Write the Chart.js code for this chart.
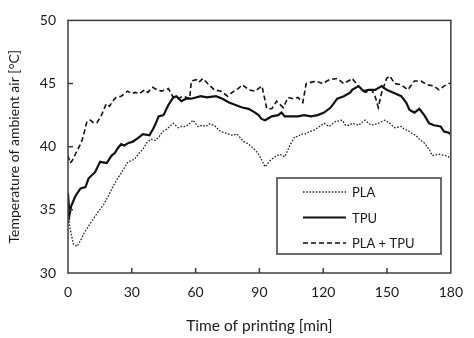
<!DOCTYPE html>
<html><head><meta charset="utf-8">
<script src="https://cdn.jsdelivr.net/npm/chart.js@4.4.1/dist/chart.umd.min.js"></script>
<style>html,body{margin:0;padding:0;background:#fff}#wrap{width:474px;height:338px}</style>
</head><body><div id="wrap"><canvas id="c" width="474" height="338"></canvas></div>
<script>
const seriesLabels = ["PLA", "TPU", "PLA + TPU"];
const xTicks = [0, 30, 60, 90, 120, 150, 180];
const yTicks = [30, 35, 40, 45, 50];

const plaTime = [0,1,2.5,4.3,6,7.4,10,12,14,16.7,19,21.3,23,25,28.2,31.3,33,35.2,37,39,41,42.9,44.5,46.5,49.5,51.8,53.5,55.5,57,58.8,61,63,64.9,66.5,68.7,70.5,71.8,73.5,75.7,77.5,79.5,81,82.6,84,85.6,87,88.7,90,91.5,92.7,94,95,97.3,99.6,101.9,103,104.3,106.6,108,109.7,111.5,113.5,115.5,117.4,120.4,122.8,125.8,128.9,130.5,132,133.6,136.6,139.7,141,142.8,145.9,149,151.3,153.6,156.7,158,159.8,162.1,163.5,165.2,167.5,169.8,171.3,174.4,177.5,180];
const plaTemp = [34.6,33.5,32.3,32.1,32.6,33.1,33.8,34.3,34.8,35.4,36.1,36.9,37.4,37.9,38.8,39.0,39.4,39.8,40.3,40.6,40.5,40.8,41.2,41.4,41.85,41.5,41.6,41.6,41.8,42.1,41.6,41.7,41.6,41.8,41.7,41.4,41.2,41.1,41.0,40.9,41.0,40.7,40.4,40.3,40.1,39.9,39.6,39.3,38.8,38.4,38.7,38.9,39.2,39.4,39.2,39.6,40.1,40.8,40.8,41.0,41.0,41.2,41.3,41.5,41.85,41.6,42.0,42.1,41.7,41.7,41.85,41.7,42.1,41.9,41.7,41.85,42.1,41.85,41.5,41.6,41.4,41.3,41.0,40.9,40.6,40.3,39.8,39.3,39.4,39.3,39.1];

const tpuTime = [0,0.7,1.5,3.5,5.9,8.2,9.7,12.8,15.1,18.2,20.5,22,23.5,25,26.4,28.5,30.5,33,35.2,38.3,40,41.3,42.6,44.9,47.2,49.5,51,53.3,55.5,57.8,60.1,62.4,65.4,69.6,72.6,75.7,78.8,81.9,84.9,88,89.6,91,92.7,95.8,98.8,100.4,101.9,105,108.1,111.1,114.2,117.4,120.4,123.5,126.6,129.7,132.8,133.6,136.6,138.9,141.3,144.4,147.5,149.8,152.8,156.7,159,160.6,162.9,165.2,167.5,169.8,172.1,175.2,176.8,179,180];
const tpuTemp = [36.3,34.6,35.3,36.1,36.7,36.8,37.5,38.0,38.8,38.7,39.3,39.5,39.9,40.2,40.1,40.3,40.4,40.7,41.0,40.9,41.4,41.85,42.4,42.5,43.3,43.9,44.0,43.6,43.8,43.8,43.9,44.0,43.9,44.0,43.8,43.5,43.3,43.1,43.0,42.7,42.5,42.2,42.1,42.4,42.5,42.7,42.4,42.4,42.4,42.5,42.4,42.5,42.7,43.1,43.8,44.0,44.3,44.5,44.8,44.4,44.5,44.5,44.8,44.5,44.3,44.0,43.5,42.9,42.7,43.0,42.5,41.85,41.7,41.6,41.2,41.1,41.0];

const mixTime = [0,1,2,4,5.9,7,8.9,10.5,12,13.6,15.5,18,19.5,21,22.6,25,28,30,31.5,33.6,36,37.5,39.8,42,44,47.2,49.5,51.8,54,57.2,58,60.3,61.5,63.4,65.7,68.8,71.9,75,78,80,82,85,88,89.5,91.2,93.5,95.8,98.1,101.2,103.5,105.8,108.1,110.4,112,116.6,119.7,122.8,126.6,129.7,132.8,133.6,136.6,139.7,142.8,144.4,145.9,147.5,149.8,151.3,153.6,156.7,159.8,162.9,166,169,172.1,174.4,176.8,179,180];
const mixTemp = [39.3,38.7,38.9,39.6,40.2,40.7,42.0,42.1,41.9,41.9,42.4,43.4,43.2,43.6,43.9,44.0,44.4,44.2,44.3,44.2,44.5,44.3,44.7,44.5,44.4,44.6,43.9,43.8,44.0,43.8,45.2,45.3,45.1,45.4,45.0,44.5,44.4,44.0,44.4,44.6,44.9,44.5,44.4,44.6,44.8,43.0,43.0,43.6,43.1,43.9,43.8,43.9,43.5,45.0,45.2,45.0,45.3,45.4,45.0,45.3,45.4,44.8,44.3,44.5,44.0,43.1,44.3,45.4,45.6,45.0,44.9,44.5,45.2,45.2,44.9,44.8,44.5,44.8,45.0,45.0];

function pts(t, v) { return t.map((x, i) => ({ x: x, y: v[i] })); }

const FONT = "Lato, 'Open Sans', sans-serif";
const TXT = '#1a1a1a';
const AX = '#3c3c3c';

const framePlugin = {
  id: 'frameTicks',
  afterDatasetsDraw(chart) {
    const ctx = chart.ctx, a = chart.chartArea;
    const xs = chart.scales.x, ys = chart.scales.y;
    ctx.save();
    ctx.strokeStyle = AX; ctx.lineWidth = 1.5; ctx.setLineDash([]);
    ctx.strokeRect(a.left, a.top, a.right - a.left, a.bottom - a.top);
    ctx.beginPath();
    xTicks.slice(1, -1).forEach(v => { const px = xs.getPixelForValue(v); ctx.moveTo(px, a.bottom); ctx.lineTo(px, a.bottom - 5); });
    yTicks.slice(1, -1).forEach(v => { const py = ys.getPixelForValue(v); ctx.moveTo(a.left, py); ctx.lineTo(a.left + 5, py); });
    ctx.stroke();
    // legend box
    const L = chart.options.plugins.frameTicks;
    ctx.fillStyle = '#fff';
    ctx.fillRect(L.left, L.top, L.width, L.height);
    ctx.strokeStyle = AX; ctx.lineWidth = 1.5;
    ctx.strokeRect(L.left, L.top, L.width, L.height);
    ctx.font = '13px ' + FONT; ctx.textBaseline = 'middle'; ctx.textAlign = 'left';
    chart.data.datasets.forEach((ds, i) => {
      const y = L.top + L.firstRow + i * L.rowGap;
      ctx.strokeStyle = ds.borderColor; ctx.lineWidth = ds.borderWidth; ctx.setLineDash(ds.borderDash || []);
      ctx.beginPath(); ctx.moveTo(L.lineX0, y); ctx.lineTo(L.lineX1, y); ctx.stroke();
      ctx.setLineDash([]);
      ctx.fillStyle = TXT; ctx.fillText(ds.label, L.textX, y + 1);
    });
    ctx.restore();
  }
};

new Chart(document.getElementById('c'), {
  type: 'line',
  data: {
    datasets: [
      { label: seriesLabels[0], data: pts(plaTime, plaTemp), borderColor: '#222', borderWidth: 1.3, borderDash: [1.6, 1.6], pointRadius: 0, tension: 0, fill: false },
      { label: seriesLabels[1], data: pts(tpuTime, tpuTemp), borderColor: '#111', borderWidth: 2.2, pointRadius: 0, tension: 0, fill: false },
      { label: seriesLabels[2], data: pts(mixTime, mixTemp), borderColor: '#111', borderWidth: 1.6, borderDash: [5, 3], pointRadius: 0, tension: 0, fill: false }
    ]
  },
  options: {
    responsive: false, animation: false, devicePixelRatio: 1,
    layout: { padding: { top: 12, right: 17, left: 0, bottom: 0 } },
    plugins: {
      legend: { display: false }, tooltip: { enabled: false },
      frameTicks: { left: 277, top: 178, width: 164, height: 76, firstRow: 14, rowGap: 25.5, lineX0: 303, lineX1: 346, textX: 352 }
    },
    scales: {
      x: {
        type: 'linear', min: 0, max: 180,
        afterBuildTicks: s => { s.ticks = xTicks.map(v => ({ value: v })); },
        afterFit: s => { s.height = 65; },
        grid: { display: false, drawTicks: false }, border: { display: false },
        ticks: { padding: 11, color: TXT, font: { family: FONT, size: 14 } },
        title: { display: true, text: 'Time of printing [min]', color: TXT, font: { family: FONT, size: 15.5 }, padding: { top: 0, bottom: 3 } }
      },
      y: {
        type: 'linear', min: 30, max: 50,
        afterBuildTicks: s => { s.ticks = yTicks.map(v => ({ value: v })); },
        afterFit: s => { s.width = 68; },
        grid: { display: false, drawTicks: false }, border: { display: false },
        ticks: { padding: 12, color: TXT, font: { family: FONT, size: 14 } },
        title: { display: true, text: 'Temperature of ambient air [°C]', color: TXT, font: { family: FONT, size: 14 }, padding: { top: 6, bottom: 0 } }
      }
    }
  },
  plugins: [framePlugin]
});
</script></body></html>
